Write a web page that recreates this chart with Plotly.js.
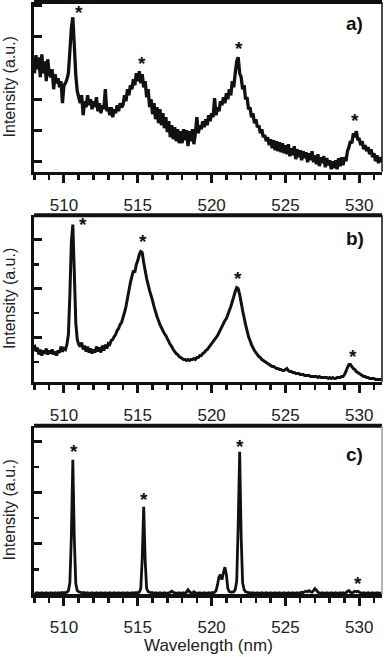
<!DOCTYPE html>
<html>
<head>
<meta charset="utf-8">
<script src="https://cdn.plot.ly/plotly-3.0.1.min.js"></script>
<style>html,body{margin:0;padding:0;background:#fff;}#chart{width:384px;height:657px;}</style>
</head>
<body>
<div id="chart"></div>
<script>
// Wavelength grid (nm)
const wavelength = [
508.0,508.1,508.2,508.3,508.4,508.5,508.6,508.7,508.8,508.9,
509.0,509.1,509.2,509.3,509.4,509.5,509.6,509.7,509.8,509.9,
510.0,510.1,510.2,510.3,510.4,510.5,510.6,510.7,510.8,510.9,
511.0,511.1,511.2,511.3,511.4,511.5,511.6,511.7,511.8,511.9,
512.0,512.1,512.2,512.3,512.4,512.5,512.6,512.7,512.8,512.9,
513.0,513.1,513.2,513.3,513.4,513.5,513.6,513.7,513.8,513.9,
514.0,514.1,514.2,514.3,514.4,514.5,514.6,514.7,514.8,514.9,
515.0,515.1,515.2,515.3,515.4,515.5,515.6,515.7,515.8,515.9,
516.0,516.1,516.2,516.3,516.4,516.5,516.6,516.7,516.8,516.9,
517.0,517.1,517.2,517.3,517.4,517.5,517.6,517.7,517.8,517.9,
518.0,518.1,518.2,518.3,518.4,518.5,518.6,518.7,518.8,518.9,
519.0,519.1,519.2,519.3,519.4,519.5,519.6,519.7,519.8,519.9,
520.0,520.1,520.2,520.3,520.4,520.5,520.6,520.7,520.8,520.9,
521.0,521.1,521.2,521.3,521.4,521.5,521.6,521.7,521.8,521.9,
522.0,522.1,522.2,522.3,522.4,522.5,522.6,522.7,522.8,522.9,
523.0,523.1,523.2,523.3,523.4,523.5,523.6,523.7,523.8,523.9,
524.0,524.1,524.2,524.3,524.4,524.5,524.6,524.7,524.8,524.9,
525.0,525.1,525.2,525.3,525.4,525.5,525.6,525.7,525.8,525.9,
526.0,526.1,526.2,526.3,526.4,526.5,526.6,526.7,526.8,526.9,
527.0,527.1,527.2,527.3,527.4,527.5,527.6,527.7,527.8,527.9,
528.0,528.1,528.2,528.3,528.4,528.5,528.6,528.7,528.8,528.9,
529.0,529.1,529.2,529.3,529.4,529.5,529.6,529.7,529.8,529.9,
530.0,530.1,530.2,530.3,530.4,530.5,530.6,530.7,530.8,530.9,
531.0,531.1,531.2,531.3,531.4,531.5
];

// Panel a) intensity (a.u.)
const intensityA = [
100,118,104,116,96,119,100,112,92,114,
100,96,104,84,99,90,95,86,92,70,
88,90,94,100,122,145,156,128,98,82,
76,70,78,58,72,66,78,68,74,64,
72,66,76,62,70,60,68,64,84,62,
66,58,66,56,64,60,68,62,70,66,
68,78,72,84,78,88,84,94,88,100,
92,102,90,99,86,92,76,84,66,74,
59,70,54,66,50,64,48,60,45,56,
41,52,36,48,34,46,32,44,30,42,
30,44,33,43,27,42,32,44,29,40,
56,40,48,44,52,46,54,48,58,52,
60,56,75,58,66,62,72,68,76,70,
80,74,84,78,92,86,100,112,116,100,
96,84,88,74,76,64,66,56,60,50,
54,46,48,40,44,36,38,32,36,28,
34,25,33,23,32,22,31,21,30,20,
28,19,29,17,25,18,27,14,24,16,
23,13,22,15,21,11,20,13,22,11,
18,9,19,7,16,10,17,6,15,8,
13,4,12,5,13,4,15,7,16,8,
16,12,22,26,32,30,40,36,42,34,
34,28,32,24,28,22,26,19,24,16,
20,12,18,10,16,11
];

// Panel b) intensity (a.u.)
const intensityB = [
38,31,35,28,33,27,32,29,34,28,
32,29,33,28,31,27,32,30,36,31,
34,33,38,48,88,140,158,110,60,43,
38,36,40,33,37,31,36,30,34,29,
33,30,36,31,35,30,37,32,38,34,
39,38,42,43,46,48,52,54,58,60,
65,70,76,84,92,100,106,112,110,118,
122,128,131,130,120,112,104,98,92,87,
82,76,71,66,62,58,55,52,49,47,
44,41,38,36,33,31,29,28,26,25,
24,23,23,22,23,22,23,23,24,23,
25,25,27,27,29,30,32,33,35,37,
39,41,43,45,47,50,53,56,59,62,
64,68,72,76,81,86,91,95,94,88,
80,72,65,58,52,46,42,38,35,32,
30,28,26,25,23,22,21,20,19,18,
17,16,16,15,14,14,13,13,12,12,
13,14,12,11,11,10,10,9,9,9,
8,8,8,7,7,7,7,6,6,6,
6,6,5,6,5,5,5,5,5,4,
5,4,5,4,4,5,5,5,6,6,
8,11,15,18,18,16,14,13,11,10,
9,8,7,6,6,5,5,4,4,4,
4,3,3,3,3,3
];

// Panel c) intensity (a.u.)
const intensityC = [
4,3.5,4,3.5,3.5,4,3.5,3.5,4,3.5,
3.5,4,3.5,3.5,4,3.5,4,3.5,4,4,
4,4,4.5,6,14,60,137,58,13,6,
5,4.5,4,4,4,3.5,4,3.5,3.5,4,
3.5,3.5,4,3.5,3.5,4,3.5,3.5,4,3.5,
3.5,4,3.5,3.5,4,3.5,3.5,4,3.5,3.5,
4,3.5,3.5,4,3.5,3.5,4,3.5,4,4,
4,4.5,8,38,90,36,8,5,4.5,4,
4,3.5,4,3.5,3.5,4,3.5,3.5,4,3.5,
3.5,4,4.5,5.5,4.5,4,3.5,3.5,4,3.5,
3.5,4,3.5,4.5,7,5,4,3.5,5,4,
3.5,3.5,4,3.5,3.5,4,3.5,3.5,4,3.5,
4,4,4.5,6,12,20,22,17,24,29.5,
22,8,5,4.5,4.5,5,7,16,72,145,
60,14,7,5,4.5,4,4,3.5,4,3.5,
3.5,4,3.5,3.5,4,3.5,3.5,4,3.5,3.5,
4,3.5,3.5,4,3.5,3.5,4,3.5,3.5,4,
3.5,3.5,4,3.5,3.5,4,3.5,3.5,4,3.5,
4,4.5,4,5,5.5,5,6,5,4.5,6,
8,6.5,4.5,4,3.5,4,3.5,3.5,4,3.5,
3.5,4,3.5,3.5,4,3.5,3.5,4,3.5,4,
3.5,4,5.5,6,4.5,4,4.5,5.5,5,5.5,
4.5,4,3.5,4,3.5,3.5,4,3.5,3.5,4,
3.5,3.5,4,3.5,3.5,4
];

// Marked peak wavelengths (asterisks)
const peaksA = [510.6, 515.2, 521.8, 529.6];
const peaksB = [510.6, 515.3, 521.8, 529.4];
const peaksC = [510.6, 515.4, 521.9, 529.8];
const panelLabels = ['a)', 'b)', 'c)'];
const xTitle = 'Wavelength (nm)';
const yTitle = 'Intensity (a.u.)';

// ---------- styling ----------
const FONT = 'Liberation Sans, Arial, Helvetica, sans-serif';
const INK = '#111';
const XR = [507.97, 531.54];
const domains = {a: [0.7134, 1.0], b: [0.3584, 0.6399], c: [0, 0.2841]};

function xAxis(anchor) {
  return {
    anchor: anchor, range: XR, showline: true, linewidth: 3.5, linecolor: INK,
    ticks: 'outside', ticklen: 8, tickwidth: 3, tickcolor: INK,
    tick0: 510, dtick: 5, showgrid: false, zeroline: false, ticklabelstandoff: 7,
    minor: {ticks: 'outside', tick0: 510, dtick: 1, ticklen: 5, tickwidth: 2.5, tickcolor: INK, showgrid: false},
    tickfont: {family: FONT, size: 17, color: '#222'}, fixedrange: true
  };
}
function yAxis(anchor, domain, range, tick0, dtick, minorDtick) {
  const ax = {
    anchor: anchor, domain: domain, range: range, showline: true, linewidth: 3.5, linecolor: INK,
    ticks: 'inside', ticklen: 8, tickwidth: 3, tickcolor: INK,
    tick0: tick0, dtick: dtick, showticklabels: false, showgrid: false, zeroline: false, fixedrange: true
  };
  if (minorDtick) {
    ax.minor = {ticks: 'inside', tick0: tick0, dtick: minorDtick, ticklen: 5, tickwidth: 2.5, tickcolor: INK, showgrid: false};
  }
  return ax;
}

function trace(y, xa, ya, w) {
  return {x: wavelength, y: y, xaxis: xa, yaxis: ya, type: 'scatter', mode: 'lines',
          line: {color: INK, width: w, simplify: false}, hoverinfo: 'skip', showlegend: false};
}

function localMax(series, wl0) {
  let m = -Infinity;
  for (let i = 0; i < wavelength.length; i++) {
    if (Math.abs(wavelength[i] - wl0) <= 0.31 && series[i] > m) m = series[i];
  }
  return m;
}

// per-asterisk pixel offsets [xshift, yshift]
const starShift = {
  a: [[6, 5], [1, 8], [1.3, 8.6], [1.2, 11]],
  b: [[10.5, 0.5], [0.5, 10], [0, 9], [2.2, 7.7]],
  c: [[1.2, 8.7], [0.3, 7.3], [0, 5.7], [1.6, 7.8]]
};

const annotations = [];
function addStars(peaks, series, xa, ya, shifts) {
  peaks.forEach((p, i) => {
    annotations.push({
      x: p, y: localMax(series, p), xref: xa, yref: ya, text: '*', showarrow: false,
      xanchor: 'center', yanchor: 'middle', xshift: shifts[i][0], yshift: shifts[i][1],
      font: {family: FONT, size: 19, color: INK, weight: 'bold'}
    });
  });
}
addStars(peaksA, intensityA, 'x', 'y', starShift.a);
addStars(peaksB, intensityB, 'x2', 'y2', starShift.b);
addStars(peaksC, intensityC, 'x3', 'y3', starShift.c);

const labelPos = [[0.921, 0.872, 'x', 'y'], [0.921, 0.859, 'x2', 'y2'], [0.921, 0.827, 'x3', 'y3']];
panelLabels.forEach((t, i) => {
  annotations.push({
    x: labelPos[i][0], y: labelPos[i][1], xref: labelPos[i][2] + ' domain', yref: labelPos[i][3] + ' domain',
    text: '<b>' + t + '</b>', showarrow: false, xanchor: 'center', yanchor: 'middle',
    font: {family: FONT, size: 19, color: INK}
  });
});

// y titles
['y', 'y2', 'y3'].forEach((ya) => {
  annotations.push({
    x: -0.0701, y: 0.5, xref: 'paper', yref: ya + ' domain', text: yTitle, showarrow: false,
    textangle: -90, xanchor: 'center', yanchor: 'middle',
    font: {family: FONT, size: 16, color: '#222'}
  });
});
// x title
annotations.push({
  x: 0.5, y: -0.0873, xref: 'paper', yref: 'paper', text: xTitle, showarrow: false,
  xanchor: 'center', yanchor: 'middle', font: {family: FONT, size: 17, color: '#222'}
});

const shapes = [];
[['x', 'y', INK], ['x2', 'y2', INK], ['x3', 'y3', '#9a9a9a']].forEach(([xa, ya, rc]) => {
  shapes.push({type: 'line', xref: xa + ' domain', yref: ya + ' domain', x0: 0, x1: 1, y0: 1, y1: 1,
               line: {color: INK, width: 4}});
  shapes.push({type: 'line', xref: xa + ' domain', yref: ya + ' domain', x0: 1, x1: 1, y0: 0, y1: 1,
               line: {color: rc, width: 1.5}});
});

const data = [
  trace(intensityA, 'x', 'y', 3.3),
  trace(intensityB, 'x2', 'y2', 3),
  trace(intensityC, 'x3', 'y3', 2.8)
];

const layout = {
  width: 384, height: 657,
  margin: {l: 34, r: 2.3, t: 2, b: 62.7},
  paper_bgcolor: '#fff', plot_bgcolor: '#fff',
  showlegend: false,
  font: {family: FONT, color: '#222'},
  xaxis: xAxis('y'), xaxis2: xAxis('y2'), xaxis3: xAxis('y3'),
  yaxis: yAxis('x', domains.a, [1.5, 171.3], 11.6, 31.25, null),
  yaxis2: yAxis('x2', domains.b, [0.7, 167.4], 45, 48.8, 24.4),
  yaxis3: yAxis('x3', domains.c, [2.7, 171], 53, 51.15, 25.575),
  annotations: annotations,
  shapes: shapes
};

Plotly.newPlot('chart', data, layout, {staticPlot: true, displayModeBar: false});
</script>
</body>
</html>
